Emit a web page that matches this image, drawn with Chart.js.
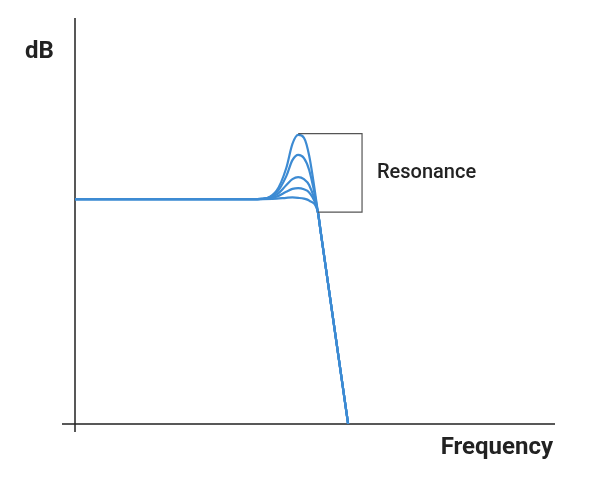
<!DOCTYPE html>
<html>
<head>
<meta charset="utf-8">
<script src="https://cdn.jsdelivr.net/npm/chart.js@4"></script>
<style>body{margin:0;background:#fff}</style>
</head>
<body>
<canvas id="c" width="590" height="482"></canvas>
<script>
// frequency (0-100) and level (0-100) in relative units
const freqX = [0, 38, 42, 44, 45.3, 46.5, 47.7, 48.8, 50.6, 51.2, 56.9];
const peak1 = [55.4, 55.4, 57.5, 63, 69, 71.2, 70.5, 66, 52.2, 47.2, 0];
const peak2 = [55.4, 55.4, 57, 61, 65, 66.3, 65.5, 62.5, 52.2, 47.2, 0];
const peak3 = [55.4, 55.4, 56.5, 58.8, 60.3, 60.8, 60.3, 58.8, 52.2, 47.2, 0];
const peak4 = [55.4, 55.4, 56, 57.2, 57.9, 58.1, 57.8, 57, 52.2, 47.2, 0];
const peak5 = [55.4, 55.4, 55.5, 55.7, 55.8, 55.7, 55.5, 55, 52.2, 47.2, 0];
const bracketX = [46.5, 59.8, 59.8, 50.6];
const bracketY = [71.5, 71.5, 52.2, 52.2];

const toPts = (xs, ys) => xs.map((x, i) => ({ x, y: ys[i] }));
const blue = '#3d8bd3';
const curves = [peak1, peak2, peak3, peak4, peak5].map(p => ({
  data: toPts(freqX, p), borderColor: blue, borderWidth: 2.2,
  pointRadius: 0, cubicInterpolationMode: 'monotone', fill: false
}));

const overlay = {
  id: 'overlay',
  beforeDatasetsDraw(chart) {
    const { ctx, chartArea: a } = chart;
    ctx.save();
    ctx.strokeStyle = '#222';
    ctx.lineWidth = 1.5;
    ctx.beginPath();
    ctx.moveTo(a.left, 18); ctx.lineTo(a.left, a.bottom + 8);
    ctx.moveTo(a.left - 13, a.bottom); ctx.lineTo(a.right, a.bottom);
    ctx.stroke();
    ctx.restore();
  },
  afterDraw(chart) {
    const { ctx } = chart;
    ctx.save();
    ctx.fillStyle = '#222';
    ctx.font = 'bold 24px Roboto, "Liberation Sans", sans-serif';
    ctx.textBaseline = 'middle';
    ctx.textAlign = 'left';
    ctx.fillText('dB', 25, 52);
    ctx.textAlign = 'right';
    ctx.fillText('Frequency', 553, 448);
    ctx.font = '500 20px Roboto, "Liberation Sans", sans-serif';
    ctx.textAlign = 'left';
    ctx.fillText('Resonance', 377, 173);
    ctx.restore();
  }
};

new Chart(document.getElementById('c'), {
  type: 'line',
  data: {
    datasets: [
      { data: toPts(bracketX, bracketY), borderColor: '#555', borderWidth: 1.2, pointRadius: 0, tension: 0 },
      ...curves
    ]
  },
  options: {
    responsive: false,
    animation: false,
    layout: { padding: { left: 75, right: 35, top: 18, bottom: 58 } },
    plugins: { legend: { display: false }, tooltip: { enabled: false } },
    scales: {
      x: { type: 'linear', min: 0, max: 100, display: false },
      y: { min: 0, max: 100, display: false }
    }
  },
  plugins: [overlay]
});
</script>
</body>
</html>
